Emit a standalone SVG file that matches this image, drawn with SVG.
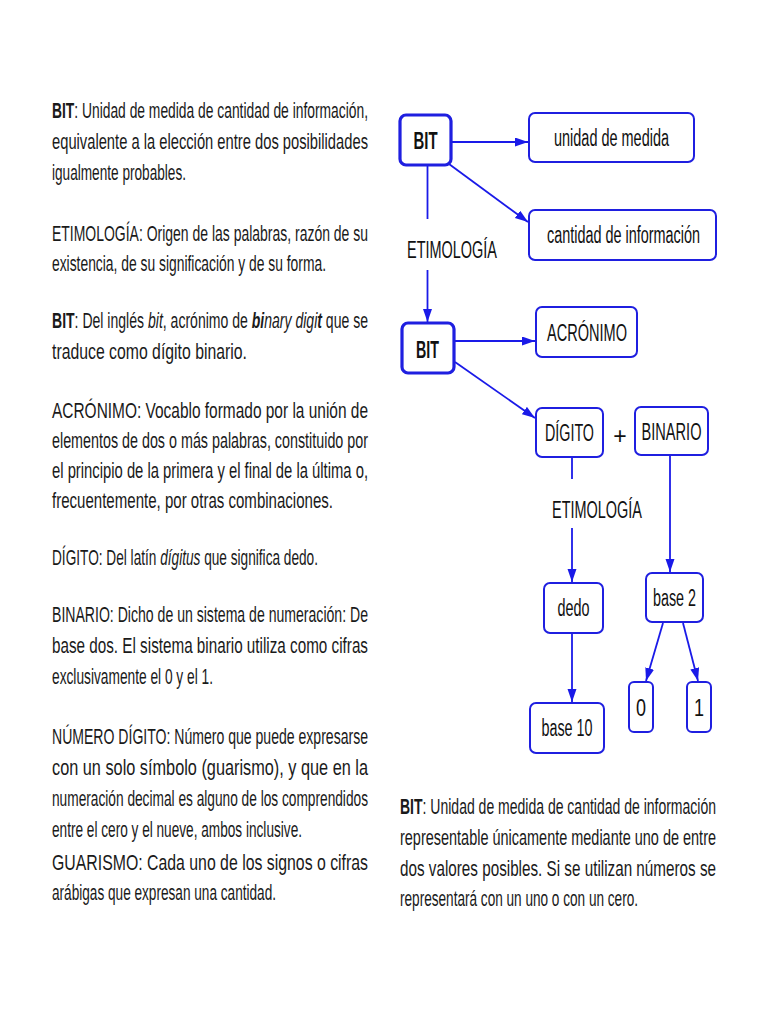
<svg xmlns="http://www.w3.org/2000/svg" width="768" height="1024" viewBox="0 0 768 1024">
<defs>
<style>
.t{font-family:"Liberation Sans Narrow","Liberation Sans",Arial,sans-serif;font-size:22px;fill:#1a1a1a}
.d{font-family:"Liberation Sans Narrow","Liberation Sans",Arial,sans-serif;font-size:23px;fill:#111}
.b{font-weight:bold}
.i{font-style:italic}
.box{fill:#fff;stroke:#1f1fe0;stroke-width:2}
.boxb{fill:#fff;stroke:#1f1fe0;stroke-width:3.2}
.ln{stroke:#1a1ae8;stroke-width:1.8;fill:none}
.ar{marker-end:url(#ah)}
</style>
<marker id="ah" markerUnits="userSpaceOnUse" markerWidth="14" markerHeight="10" refX="13" refY="4.5" orient="auto">
<path d="M0,0 L13,4.5 L0,9 z" fill="#1a1ae8"/>
</marker>
</defs>
<rect width="768" height="1024" fill="#fff"/>

<g id="left-text">
<text class="t" x="52" y="118" textLength="316" lengthAdjust="spacingAndGlyphs"><tspan class="b">BIT</tspan>: Unidad de medida de cantidad de información,</text>
<text class="t" x="52" y="149" textLength="316" lengthAdjust="spacingAndGlyphs">equivalente a la elección entre dos posibilidades</text>
<text class="t" x="52" y="180" textLength="134" lengthAdjust="spacingAndGlyphs">igualmente probables.</text>

<text class="t" x="52" y="241" textLength="316" lengthAdjust="spacingAndGlyphs">ETIMOLOGÍA: Origen de las palabras, razón de su</text>
<text class="t" x="52" y="271" textLength="274" lengthAdjust="spacingAndGlyphs">existencia, de su significación y de su forma.</text>

<text class="t" x="52" y="328" textLength="316" lengthAdjust="spacingAndGlyphs"><tspan class="b">BIT</tspan>: Del inglés <tspan class="i">bit</tspan>, acrónimo de <tspan class="b i">bi</tspan><tspan class="i">nary digi</tspan><tspan class="b i">t</tspan> que se</text>
<text class="t" x="52" y="359" textLength="195" lengthAdjust="spacingAndGlyphs">traduce como dígito binario.</text>

<text class="t" x="52" y="418" textLength="316" lengthAdjust="spacingAndGlyphs">ACRÓNIMO: Vocablo formado por la unión de</text>
<text class="t" x="52" y="448" textLength="316" lengthAdjust="spacingAndGlyphs">elementos de dos o más palabras, constituido por</text>
<text class="t" x="52" y="478" textLength="316" lengthAdjust="spacingAndGlyphs">el principio de la primera y el final de la última o,</text>
<text class="t" x="52" y="508" textLength="281" lengthAdjust="spacingAndGlyphs">frecuentemente, por otras combinaciones.</text>

<text class="t" x="52" y="565" textLength="266" lengthAdjust="spacingAndGlyphs">DÍGITO: Del latín <tspan class="i">dígitus</tspan> que significa dedo.</text>

<text class="t" x="52" y="622" textLength="316" lengthAdjust="spacingAndGlyphs">BINARIO: Dicho de un sistema de numeración: De</text>
<text class="t" x="52" y="653" textLength="316" lengthAdjust="spacingAndGlyphs">base dos. El sistema binario utiliza como cifras</text>
<text class="t" x="52" y="684" textLength="161" lengthAdjust="spacingAndGlyphs">exclusivamente el 0 y el 1.</text>

<text class="t" x="52" y="744" textLength="316" lengthAdjust="spacingAndGlyphs">NÚMERO DÍGITO: Número que puede expresarse</text>
<text class="t" x="52" y="775" textLength="316" lengthAdjust="spacingAndGlyphs">con un solo símbolo (guarismo), y que en la</text>
<text class="t" x="52" y="806" textLength="316" lengthAdjust="spacingAndGlyphs">numeración decimal es alguno de los comprendidos</text>
<text class="t" x="52" y="837" textLength="250" lengthAdjust="spacingAndGlyphs">entre el cero y el nueve, ambos inclusive.</text>

<text class="t" x="52" y="870" textLength="316" lengthAdjust="spacingAndGlyphs">GUARISMO: Cada uno de los signos o cifras</text>
<text class="t" x="52" y="900" textLength="224" lengthAdjust="spacingAndGlyphs">arábigas que expresan una cantidad.</text>
</g>

<g id="bottom-text">
<text class="t" x="400" y="814" textLength="316" lengthAdjust="spacingAndGlyphs"><tspan class="b">BIT</tspan>: Unidad de medida de cantidad de información</text>
<text class="t" x="400" y="845" textLength="316" lengthAdjust="spacingAndGlyphs">representable únicamente mediante uno de entre</text>
<text class="t" x="400" y="876" textLength="316" lengthAdjust="spacingAndGlyphs">dos valores posibles. Si se utilizan números se</text>
<text class="t" x="400" y="906" textLength="238" lengthAdjust="spacingAndGlyphs">representará con un uno o con un cero.</text>
</g>

<g id="connectors">
<line class="ln ar" x1="451" y1="142" x2="528" y2="142"/>
<line class="ln ar" x1="449" y1="164" x2="528" y2="222"/>
<line class="ln" x1="427.5" y1="166" x2="427.5" y2="219"/>
<line class="ln ar" x1="427.5" y1="270" x2="427.5" y2="322"/>
<line class="ln ar" x1="455" y1="341" x2="535" y2="341"/>
<line class="ln ar" x1="455" y1="362" x2="535" y2="418"/>
<line class="ln" x1="572" y1="457" x2="572" y2="479"/>
<line class="ln ar" x1="572" y1="528" x2="572" y2="582"/>
<line class="ln ar" x1="572" y1="634" x2="572" y2="702"/>
<line class="ln ar" x1="670" y1="456" x2="670" y2="572"/>
<line class="ln ar" x1="663" y1="623" x2="646" y2="681"/>
<line class="ln ar" x1="683" y1="623" x2="698" y2="681"/>
<text class="d" x="452" y="258" text-anchor="middle" textLength="90" lengthAdjust="spacingAndGlyphs">ETIMOLOGÍA</text>
<text class="d" x="597" y="518" text-anchor="middle" textLength="90" lengthAdjust="spacingAndGlyphs">ETIMOLOGÍA</text>
<text class="d" x="620" y="444" text-anchor="middle" font-size="26">+</text>
</g>

<g id="bit1">
<rect class="boxb" x="400" y="115" width="51" height="50" rx="6"/>
<text class="d b" x="425.5" y="149" text-anchor="middle" textLength="24" lengthAdjust="spacingAndGlyphs">BIT</text>
</g>
<g id="unidad">
<rect class="box" x="529" y="113" width="165" height="49" rx="6"/>
<text class="d" x="611.5" y="146" text-anchor="middle" textLength="115" lengthAdjust="spacingAndGlyphs">unidad de medida</text>
</g>
<g id="cantidad">
<rect class="box" x="529" y="210" width="187" height="50" rx="6"/>
<text class="d" x="623.5" y="243" text-anchor="middle" textLength="153" lengthAdjust="spacingAndGlyphs">cantidad de información</text>
</g>
<g id="bit2">
<rect class="boxb" x="402" y="323" width="52" height="50" rx="6"/>
<text class="d b" x="427.5" y="358" text-anchor="middle" textLength="23" lengthAdjust="spacingAndGlyphs">BIT</text>
</g>
<g id="acronimo">
<rect class="box" x="536" y="307" width="101" height="50" rx="6"/>
<text class="d" x="587" y="341" text-anchor="middle" textLength="80" lengthAdjust="spacingAndGlyphs">ACRÓNIMO</text>
</g>
<g id="digito">
<rect class="box" x="536" y="408" width="67" height="49" rx="6"/>
<text class="d" x="569.5" y="441" text-anchor="middle" textLength="49" lengthAdjust="spacingAndGlyphs">DÍGITO</text>
</g>
<g id="binario">
<rect class="box" x="635" y="407" width="73" height="48" rx="6"/>
<text class="d" x="671.5" y="440" text-anchor="middle" textLength="60" lengthAdjust="spacingAndGlyphs">BINARIO</text>
</g>
<g id="dedo">
<rect class="box" x="544" y="583" width="59" height="50" rx="6"/>
<text class="d" x="573.5" y="616" text-anchor="middle" textLength="32" lengthAdjust="spacingAndGlyphs">dedo</text>
</g>
<g id="base2">
<rect class="box" x="646" y="573" width="57" height="49" rx="6"/>
<text class="d" x="674.5" y="606" text-anchor="middle" textLength="43" lengthAdjust="spacingAndGlyphs">base 2</text>
</g>
<g id="base10">
<rect class="box" x="530" y="703" width="74" height="50" rx="6"/>
<text class="d" x="567" y="736" text-anchor="middle" textLength="51" lengthAdjust="spacingAndGlyphs">base 10</text>
</g>
<g id="zero">
<rect class="box" x="629" y="682" width="24" height="50" rx="5"/>
<text class="d" x="641" y="716" text-anchor="middle" textLength="10" lengthAdjust="spacingAndGlyphs">0</text>
</g>
<g id="one">
<rect class="box" x="687" y="682" width="24" height="50" rx="5"/>
<text class="d" x="699" y="716" text-anchor="middle" textLength="10" lengthAdjust="spacingAndGlyphs">1</text>
</g>
</svg>
